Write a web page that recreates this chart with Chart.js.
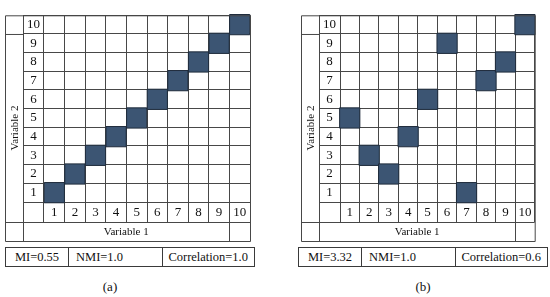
<!DOCTYPE html>
<html>
<head>
<meta charset="utf-8">
<script src="https://cdn.jsdelivr.net/npm/chart.js@4.4.0/dist/chart.umd.min.js"></script>
<style>
  body { margin: 0; background: #fff; width: 550px; height: 297px; position: relative; overflow: hidden;
         font-family: "Liberation Serif", serif; color: #111; }
  canvas { position: absolute; top: 0; }
  .stats { position: absolute; top: 247px; width: 250px; height: 20px; border: 1px solid #3a3a3a;
           box-sizing: border-box; display: flex; font-size: 12.5px; line-height: 18px; }
  .stats div { box-sizing: border-box; white-space: nowrap; }
  .stats .mi { width: 62px; text-align: center; }
  .stats .nmi { width: 94px; border-left: 1px solid #3a3a3a; padding-left: 7px; }
  .stats .corr { flex: 1; border-left: 1px solid #3a3a3a; text-align: right; padding-right: 6px; }
  .cap { position: absolute; top: 279px; width: 40px; text-align: center; font-size: 13px; line-height: 16px; }
</style>
</head>
<body>
<canvas id="chartA" width="275" height="245" style="left:0"></canvas>
<canvas id="chartB" width="275" height="245" style="left:275px"></canvas>
<div class="stats" id="statsA" style="left:5px"></div>
<div class="stats" id="statsB" style="left:298px"></div>
<div class="cap" id="capA" style="left:90px"></div>
<div class="cap" id="capB" style="left:403px"></div>
<script>
// values
const xLabels = ['1', '2', '3', '4', '5', '6', '7', '8', '9', '10'];
const yLabels = ['10', '9', '8', '7', '6', '5', '4', '3', '2', '1'];
const variable1 = [1, 2, 3, 4, 5, 6, 7, 8, 9, 10];
const variable2a = [1, 2, 3, 4, 5, 6, 7, 8, 9, 10];
const variable2b = [5, 3, 2, 4, 6, 9, 1, 7, 8, 10];
const miValues = ['0.55', '3.32'];
const nmiValues = ['1.0', '1.0'];
const corrValues = ['1.0', '0.6'];
const captions = ['(a)', '(b)'];
const axisTitles = ['Variable 1', 'Variable 2'];

var LABEL_COL = 18, NUM_COL = 21, NUM_ROW = 20, TITLE_ROW = 19;
var lineColor = '#474747';
var textColor = '#111';

// outer table lines + the two variable captions
var tableFrame = {
    id: 'tableFrame',
    afterDraw: function(chart) {
        var ctx = chart.ctx, a = chart.chartArea;
        var cw = (a.right - a.left) / xLabels.length;
        var ch = (a.bottom - a.top) / yLabels.length;
        var x0 = a.left - NUM_COL - LABEL_COL, x1 = a.left - NUM_COL;
        var y1 = a.bottom + NUM_ROW, y2 = y1 + TITLE_ROW;
        ctx.save();
        ctx.strokeStyle = lineColor;
        ctx.lineWidth = 1;
        ctx.beginPath();
        ctx.rect(x0 + 0.5, a.top + 0.5, a.right - x0, y2 - a.top);
        ctx.moveTo(x1 + 0.5, a.top); ctx.lineTo(x1 + 0.5, y2);
        ctx.moveTo(x0, a.top + ch + 0.5); ctx.lineTo(x1, a.top + ch + 0.5);
        ctx.moveTo(x0, y1 + 0.5); ctx.lineTo(a.right, y1 + 0.5);
        ctx.moveTo(Math.round(a.right - cw) + 0.5, y1); ctx.lineTo(Math.round(a.right - cw) + 0.5, y2);
        ctx.stroke();
        ctx.fillStyle = textColor;
        ctx.font = '11px "Liberation Serif"';
        ctx.textAlign = 'center';
        ctx.textBaseline = 'middle';
        ctx.fillText(axisTitles[0], (x1 + a.right - cw) / 2, (y1 + y2) / 2 + 1);
        ctx.translate((x0 + x1) / 2 + 1, (a.top + ch + y1) / 2);
        ctx.rotate(-Math.PI / 2);
        ctx.fillText(axisTitles[1], 0, 0);
        ctx.restore();
    }
};

function makeChart(id, yValues, padLeft, padRight) {
    var ctx = document.getElementById(id).getContext('2d');
    return new Chart(ctx, {
        type: 'scatter',
        data: {
            datasets: [{
                data: variable1.map(function(v, i) { return { x: String(v), y: String(yValues[i]) }; }),
                pointStyle: 'rect',
                pointRadius: 14.3,
                backgroundColor: '#3c5573',
                borderColor: '#1e2b3b',
                borderWidth: 1
            }]
        },
        options: {
            responsive: false,
            animation: false,
            events: [],
            layout: { padding: { left: padLeft, right: padRight, top: 4, bottom: 4 } },
            plugins: {
                legend: { display: false },
                tooltip: { enabled: false }
            },
            scales: {
                x: {
                    type: 'category',
                    labels: xLabels,
                    offset: true,
                    grid: { offset: true, color: lineColor, tickColor: lineColor, tickLength: NUM_ROW },
                    border: { display: false },
                    ticks: { color: textColor, font: { family: 'Liberation Serif', size: 13 },
                             padding: -17, maxRotation: 0, autoSkip: false },
                    afterFit: function(s) { s.height = NUM_ROW + TITLE_ROW; }
                },
                y: {
                    type: 'category',
                    labels: yLabels,
                    offset: true,
                    grid: { offset: true, color: lineColor, tickColor: lineColor, tickLength: NUM_COL },
                    border: { display: false },
                    ticks: { color: textColor, font: { family: 'Liberation Serif', size: 13 },
                             padding: -17, crossAlign: 'center', autoSkip: false },
                    afterFit: function(s) { s.width = LABEL_COL + NUM_COL; }
                }
            }
        },
        plugins: [tableFrame]
    });
}

makeChart('chartA', variable2a, 5, 25);
makeChart('chartB', variable2b, 26, 4);

// stats tables and captions
['statsA', 'statsB'].forEach(function(id, i) {
    document.getElementById(id).innerHTML =
        '<div class="mi">MI=' + miValues[i] + '</div>' +
        '<div class="nmi">NMI=' + nmiValues[i] + '</div>' +
        '<div class="corr">Correlation=' + corrValues[i] + '</div>';
});
document.getElementById('capA').textContent = captions[0];
document.getElementById('capB').textContent = captions[1];
</script>
</body>
</html>
